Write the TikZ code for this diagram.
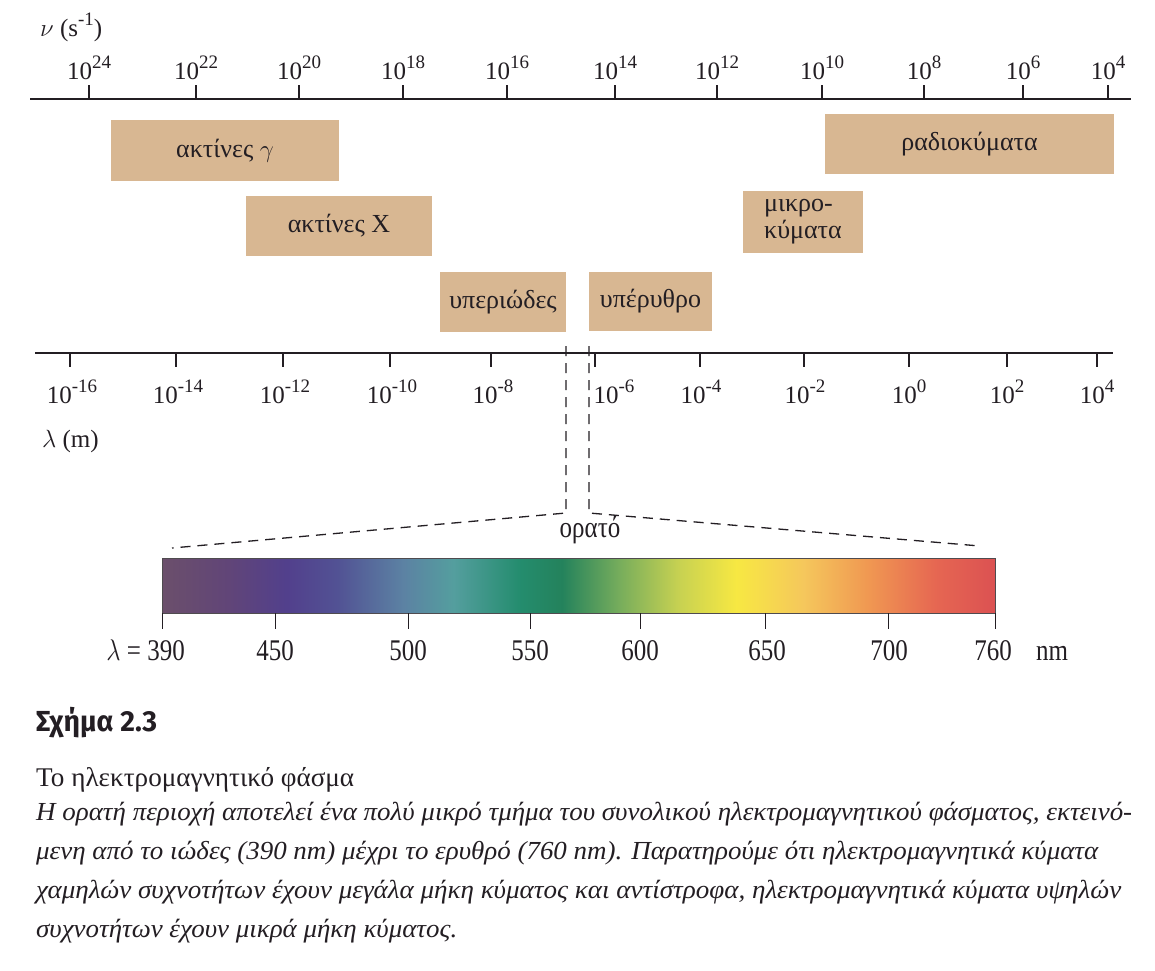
\documentclass[tikz,border=0pt]{standalone}
\usepackage{fontspec}
\usepackage{graphicx}
\setmainfont{Liberation Serif}
\newfontfamily\capsans{Fira Sans}
\definecolor{band}{RGB}{216,183,146}
\definecolor{ink}{RGB}{35,30,35}
\pgfdeclarehorizontalshading{spectrum}{100bp}{%
 rgb(0bp)=(0.42,0.31,0.42);
 rgb(25bp)=(0.42,0.31,0.42);
 rgb(29bp)=(0.38,0.27,0.47);
 rgb(32.5bp)=(0.32,0.25,0.55);
 rgb(35.5bp)=(0.32,0.32,0.58);
 rgb(39.5bp)=(0.36,0.51,0.64);
 rgb(42.5bp)=(0.33,0.62,0.62);
 rgb(46.5bp)=(0.14,0.55,0.43);
 rgb(49bp)=(0.14,0.51,0.36);
 rgb(52.5bp)=(0.47,0.68,0.36);
 rgb(56bp)=(0.78,0.82,0.32);
 rgb(59.5bp)=(0.97,0.91,0.26);
 rgb(63.5bp)=(0.96,0.78,0.36);
 rgb(67.5bp)=(0.94,0.59,0.32);
 rgb(71.5bp)=(0.90,0.40,0.32);
 rgb(75bp)=(0.86,0.32,0.32);
 rgb(100bp)=(0.86,0.32,0.32)}
\newcommand{\pw}[1]{\raisebox{10.5pt}{\fontsize{19}{19}\selectfont #1}}
\newcommand{\tall}[1]{\scalebox{1}[1.2]{#1}}
\newsavebox{\fitbox}
\newcommand{\fitto}[2]{\sbox{\fitbox}{#2}\pgfmathsetmacro{\fitfac}{#1/\the\wd\fitbox}\scalebox{\fitfac}[1]{\usebox{\fitbox}}}
\tikzset{
 axisline/.style={line width=1.6pt, draw=ink},
 tickmark/.style={line width=1.2pt, draw=ink},
 numlab/.style={font=\fontsize{25}{28}\selectfont, text=ink, inner sep=0pt},
 speclab/.style={font=\fontsize{25}{28}\selectfont, text=ink, inner sep=0pt, anchor=base},
 bandbox/.style={fill=band, inner sep=0pt, font=\fontsize{26}{27}\selectfont, text=ink, align=center},
 visline/.style={draw=ink, line width=1.3pt, dash pattern=on 10pt off 7pt},
 captext/.style={text=ink, inner sep=0pt, anchor=base west},
}
\begin{document}
\begin{tikzpicture}[x=1pt,y=-1pt]
\fill[white] (0,0) rectangle (1155,970);
\useasboundingbox (0,0) rectangle (1155,970);

% frequency axis
\node[numlab, anchor=base west] (nulabel) at (40,36) {$\nu$ (s\pw{-1})};
\coordinate (ta1) at (30,99);
\coordinate (ta2) at (1131,99);
\draw[axisline] (ta1) -- (ta2);
\foreach \x/\e [count=\i] in {89/24,196/22,299/20,403/18,507/16,615/14,717/12,822/10,924/8,1023/6,1108/4}{
  \draw[tickmark] (\x,85) -- (\x,99);
  \node[numlab, anchor=base] (nu\i) at (\x,79) {10\pw{\e}};
}

% bands
\node[bandbox, minimum width=228pt, minimum height=61pt] (gamma) at (225,150.5) {ακτίνες $\gamma$};
\node[bandbox, minimum width=186pt, minimum height=60pt] (xray) at (339,226) {ακτίνες X};
\node[bandbox, minimum width=126pt, minimum height=60pt] (uv) at (503,302) {υπεριώδες};
\node[bandbox, minimum width=123pt, minimum height=59pt] (ir) at (650.5,301.5) {υπέρυθρο};
\node[bandbox, minimum width=120pt, minimum height=62pt, align=left] (micro) at (803,221.5) {μικρο-\\κύματα};
\node[bandbox, minimum width=289pt, minimum height=60pt] (radio) at (969.5,144) {ραδιοκύματα};

% wavelength axis
\coordinate (ba1) at (35,353);
\coordinate (ba2) at (1113,353);
\draw[axisline] (ba1) -- (ba2);
\foreach \x/\e/\lx [count=\i] in {70/-16/72,176/-14/178,283/-12/285,390/-10/392,491/-8/493,595/-6/614,700/-4/701,804/-2/805,909/0/909,1007/2/1007,1097/4/1097}{
  \draw[tickmark] (\x,353) -- (\x,367);
  \node[numlab, anchor=base] (lam\i) at (\lx,403) {10\pw{\e}};
}
\node[numlab, anchor=base west] (lamlabel) at (42,447) {$\lambda$ (m)};

% visible spectrum
\node[draw=ink!80, line width=0.8pt, shading=spectrum, minimum width=833pt, minimum height=55pt, inner sep=0pt] (spec) at (578.5,585.5) {};
\coordinate (vl1) at (566,346);
\coordinate (vl2) at (566,513);
\coordinate (vl3) at (172,548);
\coordinate (vr1) at (589,346);
\coordinate (vr2) at (589,513);
\coordinate (vr3) at (980,546);
\draw[visline] (vl1) -- (vl2) -- (vl3);
\draw[visline] (vr1) -- (vr2) -- (vr3);
\node[numlab] (orato) at (590,530) {\tall{ορατό}};

\foreach \x/\n [count=\i] in {162/390,275/450,408/500,530/550,640/600,765/650,888/700,995/760}{
  \draw[line width=1pt, draw=ink] (\x,613) -- (\x,629);
}
\node[speclab, anchor=base east] (s1) at (185,660) {\tall{$\lambda$ = 390}};
\node[speclab] (s2) at (275,660) {\tall{450}};
\node[speclab] (s3) at (408,660) {\tall{500}};
\node[speclab] (s4) at (530,660) {\tall{550}};
\node[speclab] (s5) at (640,660) {\tall{600}};
\node[speclab] (s6) at (767,660) {\tall{650}};
\node[speclab] (s7) at (889,660) {\tall{700}};
\node[speclab] (s8) at (993,660) {\tall{760}};
\node[speclab] (nm) at (1052,660) {\tall{nm}};

% caption
\node[captext] (capnum) at (36,731) {\fitto{121}{\capsans\bfseries\fontsize{29}{32}\selectfont Σχήμα 2.3}};
\node[captext] (captitle) at (36,786) {\fitto{318}{\fontsize{27}{30}\selectfont Το ηλεκτρομαγνητικό φάσμα}};
\node[captext] (cap1) at (36,820) {\fitto{1096}{\itshape\fontsize{26}{30}\selectfont Η ορατή περιοχή αποτελεί ένα πολύ μικρό τμήμα του συνολικού ηλεκτρομαγνητικού φάσματος, εκτεινό-}};
\node[captext] (cap2) at (36,859) {\fitto{1062}{\itshape\fontsize{26}{30}\selectfont μενη από το ιώδες (390 nm) μέχρι το ερυθρό (760 nm). Παρατηρούμε ότι ηλεκτρομαγνητικά κύματα}};
\node[captext] (cap3) at (36,898) {\fitto{1085}{\itshape\fontsize{26}{30}\selectfont χαμηλών συχνοτήτων έχουν μεγάλα μήκη κύματος και αντίστροφα, ηλεκτρομαγνητικά κύματα υψηλών}};
\node[captext] (cap4) at (36,937) {\fitto{421}{\itshape\fontsize{26}{30}\selectfont συχνοτήτων έχουν μικρά μήκη κύματος.}};
\end{tikzpicture}
\end{document}
